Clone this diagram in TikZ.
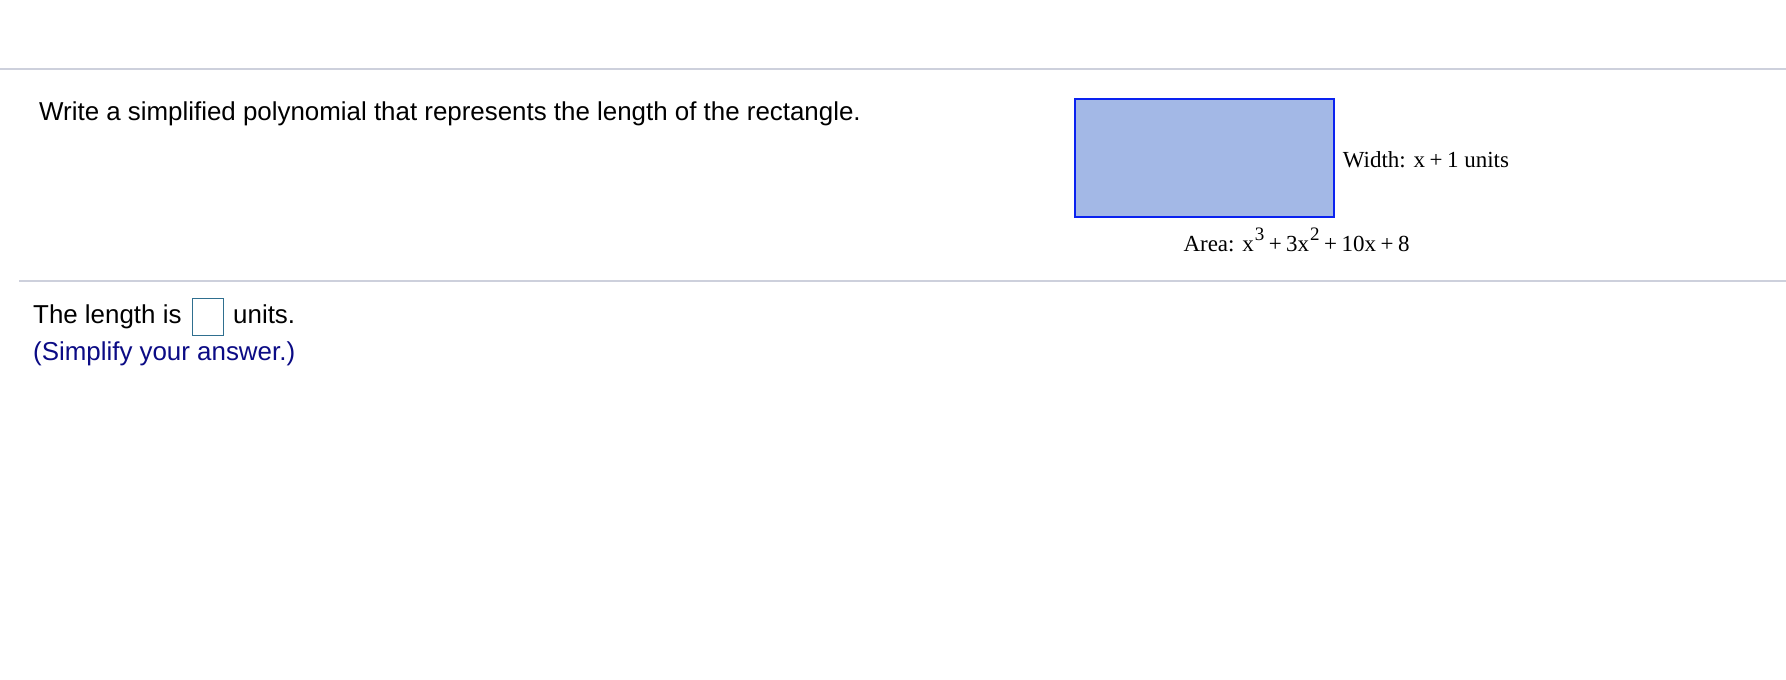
\documentclass[tikz,border=0pt]{standalone}
\usepackage{fontspec}
\setmainfont{Liberation Serif}
\newfontfamily\arialf{Liberation Sans}
\definecolor{rulegray}{HTML}{CDD0DC}
\definecolor{rectfill}{HTML}{A3B8E6}
\definecolor{rectblue}{HTML}{0A22F0}
\definecolor{boxteal}{HTML}{2F6F8F}
\definecolor{hintnavy}{HTML}{0B0B85}
\newcommand{\plusop}{\hspace{4.5pt}+\hspace{4.5pt}}
\newcommand{\supnum}[1]{\hspace{1pt}\raisebox{11pt}{\fontsize{19}{19}\selectfont #1}}
\begin{document}
\begin{tikzpicture}[x=1pt,y=-1pt,
  sanstext/.style={inner sep=0pt, anchor=base west, font=\arialf\fontsize{25.9}{30}\selectfont},
  seriftext/.style={inner sep=0pt, anchor=base west, font=\fontsize{23}{28}\selectfont},
  rulestyle/.style={draw=rulegray, line width=2pt}]
\useasboundingbox[fill=white] (0,0) rectangle (1786,680);
% rules
\coordinate (r1a) at (0,69);
\coordinate (r1b) at (1786,69);
\coordinate (r2a) at (19,280.5);
\coordinate (r2b) at (1786,280.5);
\draw[rulestyle] (r1a) -- (r1b);
\draw[rulestyle] (r2a) -- (r2b);
% question
\node[sanstext] (q) at (39,120) {Write a simplified polynomial that represents the length of the rectangle.};
% rectangle figure
\node[draw=rectblue, fill=rectfill, line width=2pt, inner sep=0pt, minimum width=259pt, minimum height=118pt, anchor=north west] (rect) at (1073.7,97.7) {};
\node[seriftext] (w) at (1342.7,167) {Width: x\plusop 1 units};
\node[seriftext] (a) at (1183.3,251.7) {Area: x\supnum{3}\plusop 3x\supnum{2}\plusop 10x\plusop 8};
% answer
\node[sanstext] (t1) at (33,323.3) {The length is};
\node[draw=boxteal, line width=1.5pt, inner sep=0pt, minimum width=31pt, minimum height=37pt, anchor=north west] (ans) at (191.5,297.5) {};
\node[sanstext] (t2) at (233,323.3) {units.};
\node[sanstext, text=hintnavy] (hint) at (33,360.5) {(Simplify your answer.)};
\end{tikzpicture}
\end{document}
